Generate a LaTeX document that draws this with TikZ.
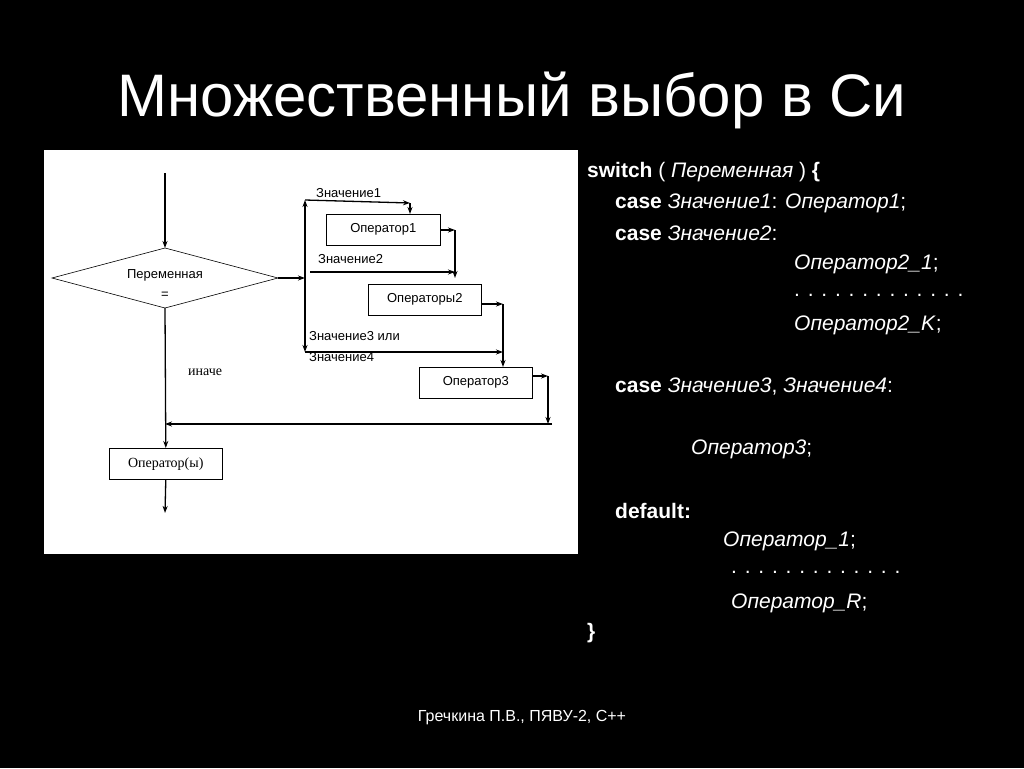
\documentclass[tikz,border=0pt]{standalone}
\usepackage{fontspec}
\setmainfont{Liberation Sans}
\newfontfamily\serifcy{Liberation Serif}
\usetikzlibrary{arrows.meta}
\begin{document}
\begin{tikzpicture}[x=1pt,y=-1pt,
  ln/.style={line width=1.3pt,black},
  ar/.style={ln,-{Stealth[length=7pt,width=5pt]}},
  box/.style={draw,line width=0.6pt,minimum width=113pt,minimum height=31pt,inner sep=0pt,font=\fontsize{13}{13}\selectfont,anchor=north west},
  lab/.style={font=\fontsize{13}{14}\selectfont,inner sep=0pt,anchor=west},
  code/.style={font=\fontsize{21}{21}\selectfont,inner sep=0pt,anchor=west,white}]
\useasboundingbox (0,0) rectangle (1024,768);
\fill[black] (0,0) rectangle (1024,768);
\node[white,font=\fontsize{60}{60}\selectfont] (title) at (512,100) {Множественный выбор в Си};
\fill[white] (44,150) rectangle (578,554);
% diamond
\coordinate (dT) at (165,248);\coordinate (dR) at (278,278);\coordinate (dB) at (165,308);\coordinate (dL) at (52,278);
\draw[line width=0.6pt] (dT)--(dR)--(dB)--(dL)--cycle;
\node[lab,anchor=center] (dv) at (165,275) {Переменная};
\node[lab,anchor=center] (de) at (165,295) {=};
\coordinate (top) at (165,173);
\draw[ar] (top) -- (dT);
\coordinate (bus) at (305,278);
\draw[ar] (dR) -- (bus);
\coordinate (busT) at (305,200);\coordinate (busB) at (305,352);
\draw[ar] (bus) -- (busT);\draw[ar] (bus) -- (busB);
% boxes
\node[box,minimum width=114pt] (o1) at (326,214) {Оператор1};
\node[box] (o2) at (368,284) {Операторы2};
\node[box] (o3) at (419,367) {Оператор3};
\node[box,font=\serifcy\fontsize{14}{14}\selectfont] (oo) at (109,448) {Оператор(ы)};
% value 1
\node[lab] (v1) at (316,193) {Значение1};
\coordinate (a1) at (410,203);
\draw[ar] (busT) -- (a1);
\draw[ar] (a1) -- (a1 |- o1.north);
\coordinate (r1) at (455,230);
\draw[ar] (o1.east |- r1) -- (r1);
% value 2
\node[lab] (v2) at (318,259) {Значение2};
\coordinate (a2s) at (310,272);\coordinate (a2) at (455,272);
\draw[ar] (a2s) -- (a2);
\draw[ar] (r1) -- (455,278);
\coordinate (r2) at (503,304);
\draw[ar] (o2.east |- r2) -- (r2);
\draw[ar] (r2) -- (r2 |- o3.north);
% value 3
\node[lab] (v3) at (309,336) {Значение3 или};
\node[lab] (v4) at (309,357) {Значение4};
\coordinate (a3) at (503,352);
\draw[ar] (busB) -- (a3);
\coordinate (r3) at (548,376);
\draw[ar] (o3.east |- r3) -- (r3);
\coordinate (r3b) at (548,424);
\draw[ar] (r3) -- (r3b);
\coordinate (ret) at (552,424);\coordinate (retE) at (165,424);
\draw[ar] (ret) -- (retE);
\node[lab,font=\serifcy\fontsize{14}{14}\selectfont] (inache) at (188,372) {иначе};
\draw[ar] (dB) -- (oo.north);
\coordinate (end) at (165,513);
\draw[ar] (oo.south) -- (end);
% code
\node[code] (c1) at (587,172) {\textbf{switch} ( \textit{Переменная} ) \textbf{\{}};
\node[code] (c2) at (615,203) {\textbf{case} \textit{Значение1}: \textit{Оператор1};};
\node[code] (c3) at (615,233) {\textbf{case} \textit{Значение2}:};
\node[code] (c4) at (794,264) {\textit{Оператор2\_1};};
\node[code] (c5) at (794,295) {. . . . . . . . . . . . .};
\node[code] (c6) at (794,325) {\textit{Оператор2\_K};};
\node[code] (c7) at (615,387) {\textbf{case} \textit{Значение3}, \textit{Значение4}:};
\node[code] (c8) at (691,449) {\textit{Оператор3};};
\node[code] (c9) at (615,511) {\textbf{default:}};
\node[code] (c10) at (723,541) {\textit{Оператор\_1};};
\node[code] (c11) at (731,572) {. . . . . . . . . . . . .};
\node[code] (c12) at (731,603) {\textit{Оператор\_R};};
\node[code] (c13) at (587,633) {\textbf{\}}};
\node[white,font=\fontsize{16}{16}\selectfont] (foot) at (522,718) {Гречкина П.В., ПЯВУ-2, С++};
\end{tikzpicture}
\end{document}
